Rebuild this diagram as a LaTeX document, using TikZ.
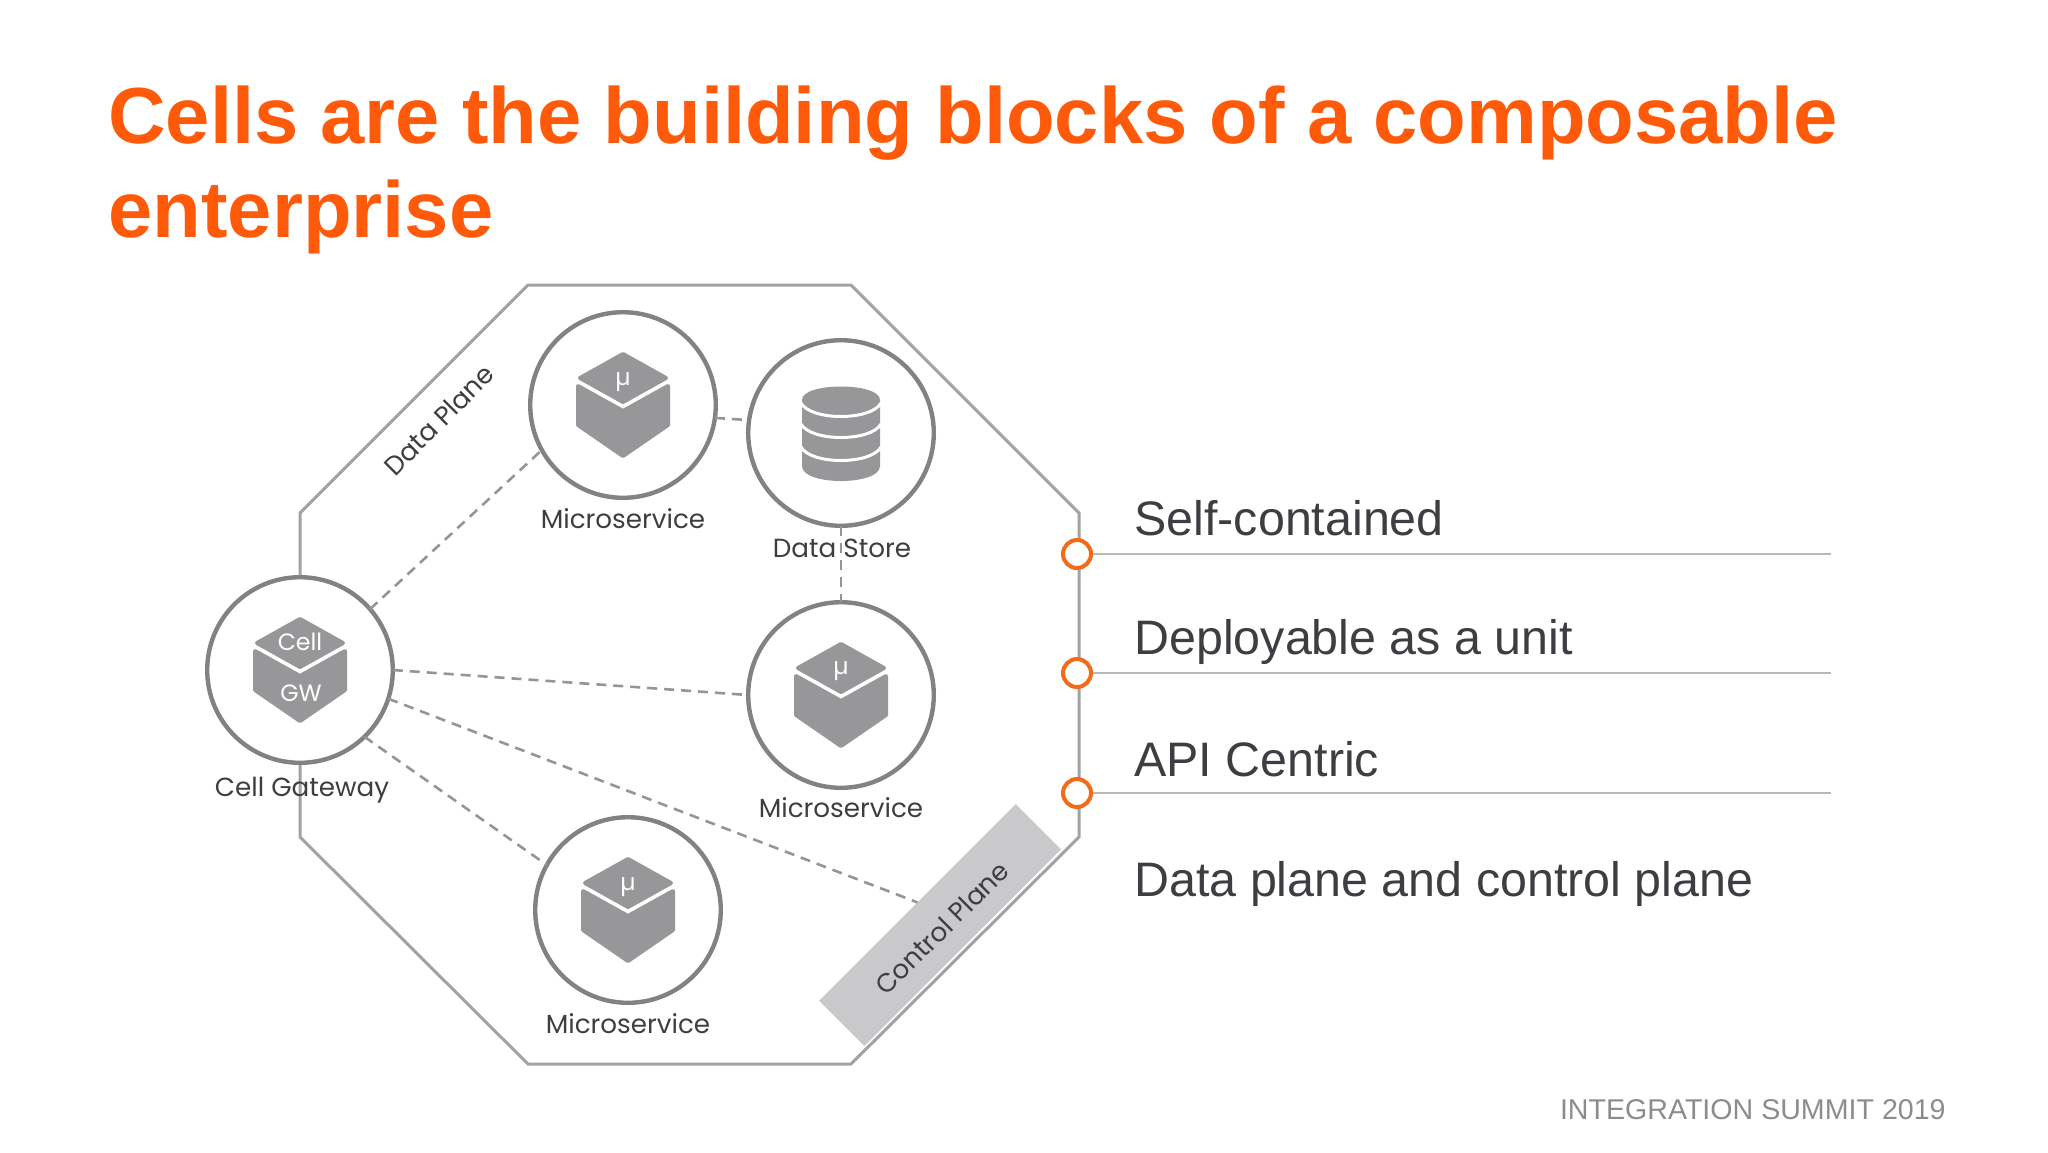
\documentclass[tikz,border=0pt]{standalone}
\usepackage{fontspec}
\setmainfont{Liberation Sans}
\newfontfamily\labelfont{Poppins}
\usetikzlibrary{positioning}
\definecolor{titleorange}{HTML}{FF5A0A}
\definecolor{dotorange}{HTML}{F26A1B}
\definecolor{iconGray}{HTML}{979799}
\definecolor{ringGray}{HTML}{828284}
\definecolor{wallGray}{HTML}{A2A2A4}
\definecolor{bandGray}{HTML}{C9C9CB}
\definecolor{inkGray}{HTML}{3E3E42}

\begin{document}
\begin{tikzpicture}[
    x=0.5pt, y=-0.5pt,
    ring/.style = {
        draw=ringGray,
        line width=2.2pt,
        fill=white,
        circle,
        minimum size=92.8pt,
        inner sep=0pt,
        outer sep=0pt,
      },
    caption/.style = {
        text=inkGray,
        inner sep=0pt,
        font=\labelfont\fontsize{13.1}{15}\selectfont,
      },
    link/.style = {
        draw=ringGray!85,
        line width=1.3pt,
        dash pattern=on 5pt off 3.5pt,
      },
    dot/.style = {
        draw=dotorange,
        line width=2pt,
        fill=white,
        circle,
        minimum size=14pt,
        inner sep=0pt,
      },
    rule/.style = {draw=black!28, line width=1pt},
    point/.style = {
        anchor=base west,
        inner sep=0pt,
        text=inkGray,
        font=\fontsize{24.2}{28}\selectfont,
      },
    cube/.pic = {
        \fill[iconGray, draw=iconGray, line width=2pt, line join=round]
        (0,-51) -- (43,-27) -- (0,-3) -- (-43,-27) -- cycle;
        \fill[iconGray, draw=iconGray, line width=2pt, line join=round]
        (-45,-19) -- (0,6) -- (45,-19) -- (45,20) -- (0,51) -- (-45,20) -- cycle;
      },
    glyph/.style = {
        text=white,
        inner sep=0pt,
        font=\labelfont\fontsize{11.8}{13}\selectfont,
      },
  ]

  \useasboundingbox (0,0) rectangle (2048,1152);

  % title
  \node[anchor=base west, inner sep=0pt, text=titleorange,
    font=\bfseries\fontsize{39.8}{47}\selectfont, align=left] (title) at (108,143.5)
  {Cells are the building blocks of a composable};
  \node[anchor=base west, inner sep=0pt, text=titleorange,
    font=\bfseries\fontsize{39.8}{47}\selectfont] (title2) at (108,237.5) {enterprise};

  % cell wall
  \node[fill=bandGray, rotate=45, minimum width=139pt, minimum height=32pt,
    inner sep=0pt, outer sep=0pt] (control) at (940,925) {};
  \draw[draw=wallGray, line width=1.5pt]
  (528,285) -- (851,285) -- (1079,513) -- (1079,837) -- (851,1064)
  -- (528,1064) -- (300,837) -- (300,513) -- cycle;

  \node[caption, rotate=45] (dataplane) at (439,420) {Data Plane};
  \node[caption, rotate=45] (controlcap) at (942,928) {Control Plane};

  % services
  \node[ring] (gw) at (300,670) {};
  \node[ring] (ms1) at (623,405) {};
  \node[ring] (store) at (841,433) {};
  \node[ring] (ms2) at (841,695) {};
  \node[ring] (ms3) at (628,910) {};

  \draw[link] (gw.41) -- (ms1.209);
  \draw[link] (gw.0) -- (ms2.180);
  \draw[link] (gw.-18) -- (control.north);
  \draw[link] (gw.-46) -- (ms3.151);
  \draw[link] (ms1.-8) -- (store.172);
  \draw[link] (store.south) -- (ms2.north);

  \pic at (gw) {cube};
  \pic at (ms1) {cube};
  \pic at (ms2) {cube};
  \pic at (ms3) {cube};

  \node[glyph] (gwtop) at (300,642) {Cell};
  \node[glyph] (gwbot) at (301,693) {GW};
  \node[glyph] (mu1) at (623,382) {µ};
  \node[glyph] (mu2) at (841,671) {µ};
  \node[glyph] (mu3) at (628,887) {µ};

  % data store
  \begin{scope}[shift={(841,433)}]
    \fill[iconGray] (-39,-33) .. controls (-39,-51) and (39,-51) .. (39,-33)
    -- (39,33) .. controls (39,53) and (-39,53) .. (-39,33) -- cycle;
    \draw[white, line width=1.5pt] (-40,-30) .. controls (-30,-12) and (30,-12) .. (40,-30);
    \draw[white, line width=1.5pt] (-40,-9) .. controls (-30,9) and (30,9) .. (40,-9);
    \draw[white, line width=1.5pt] (-40,14) .. controls (-30,32) and (30,32) .. (40,14);
  \end{scope}

  \node[caption] (ms1cap) at (623,519) {Microservice};
  \node[caption] (storecap) at (842,548) {Data Store};
  \node[caption] (ms2cap) at (841,808) {Microservice};
  \node[caption] (ms3cap) at (628,1024) {Microservice};
  \node[caption] (gwcap) at (302,790) {Cell Gateway};

  % right hand list
  \coordinate (end1) at (1831,554);
  \coordinate (end2) at (1831,673);
  \coordinate (end3) at (1831,793);
  \node[dot] (dot1) at (1077,554) {};
  \node[dot] (dot2) at (1077,673) {};
  \node[dot] (dot3) at (1077,793) {};
  \draw[rule] (dot1) -- (end1);
  \draw[rule] (dot2) -- (end2);
  \draw[rule] (dot3) -- (end3);

  \node[point] (self) at (1134,535) {Self-contained};
  \node[point] (deploy) at (1134,654) {Deployable as a unit};
  \node[point] (api) at (1134,776) {API Centric};
  \node[point] (planes) at (1134,896) {Data plane and control plane};

  \node[anchor=base east, inner sep=0pt, text=black!45,
    font=\fontsize{14.3}{18}\selectfont] (footer) at (1946,1119) {INTEGRATION SUMMIT 2019};
\end{tikzpicture}
\end{document}
